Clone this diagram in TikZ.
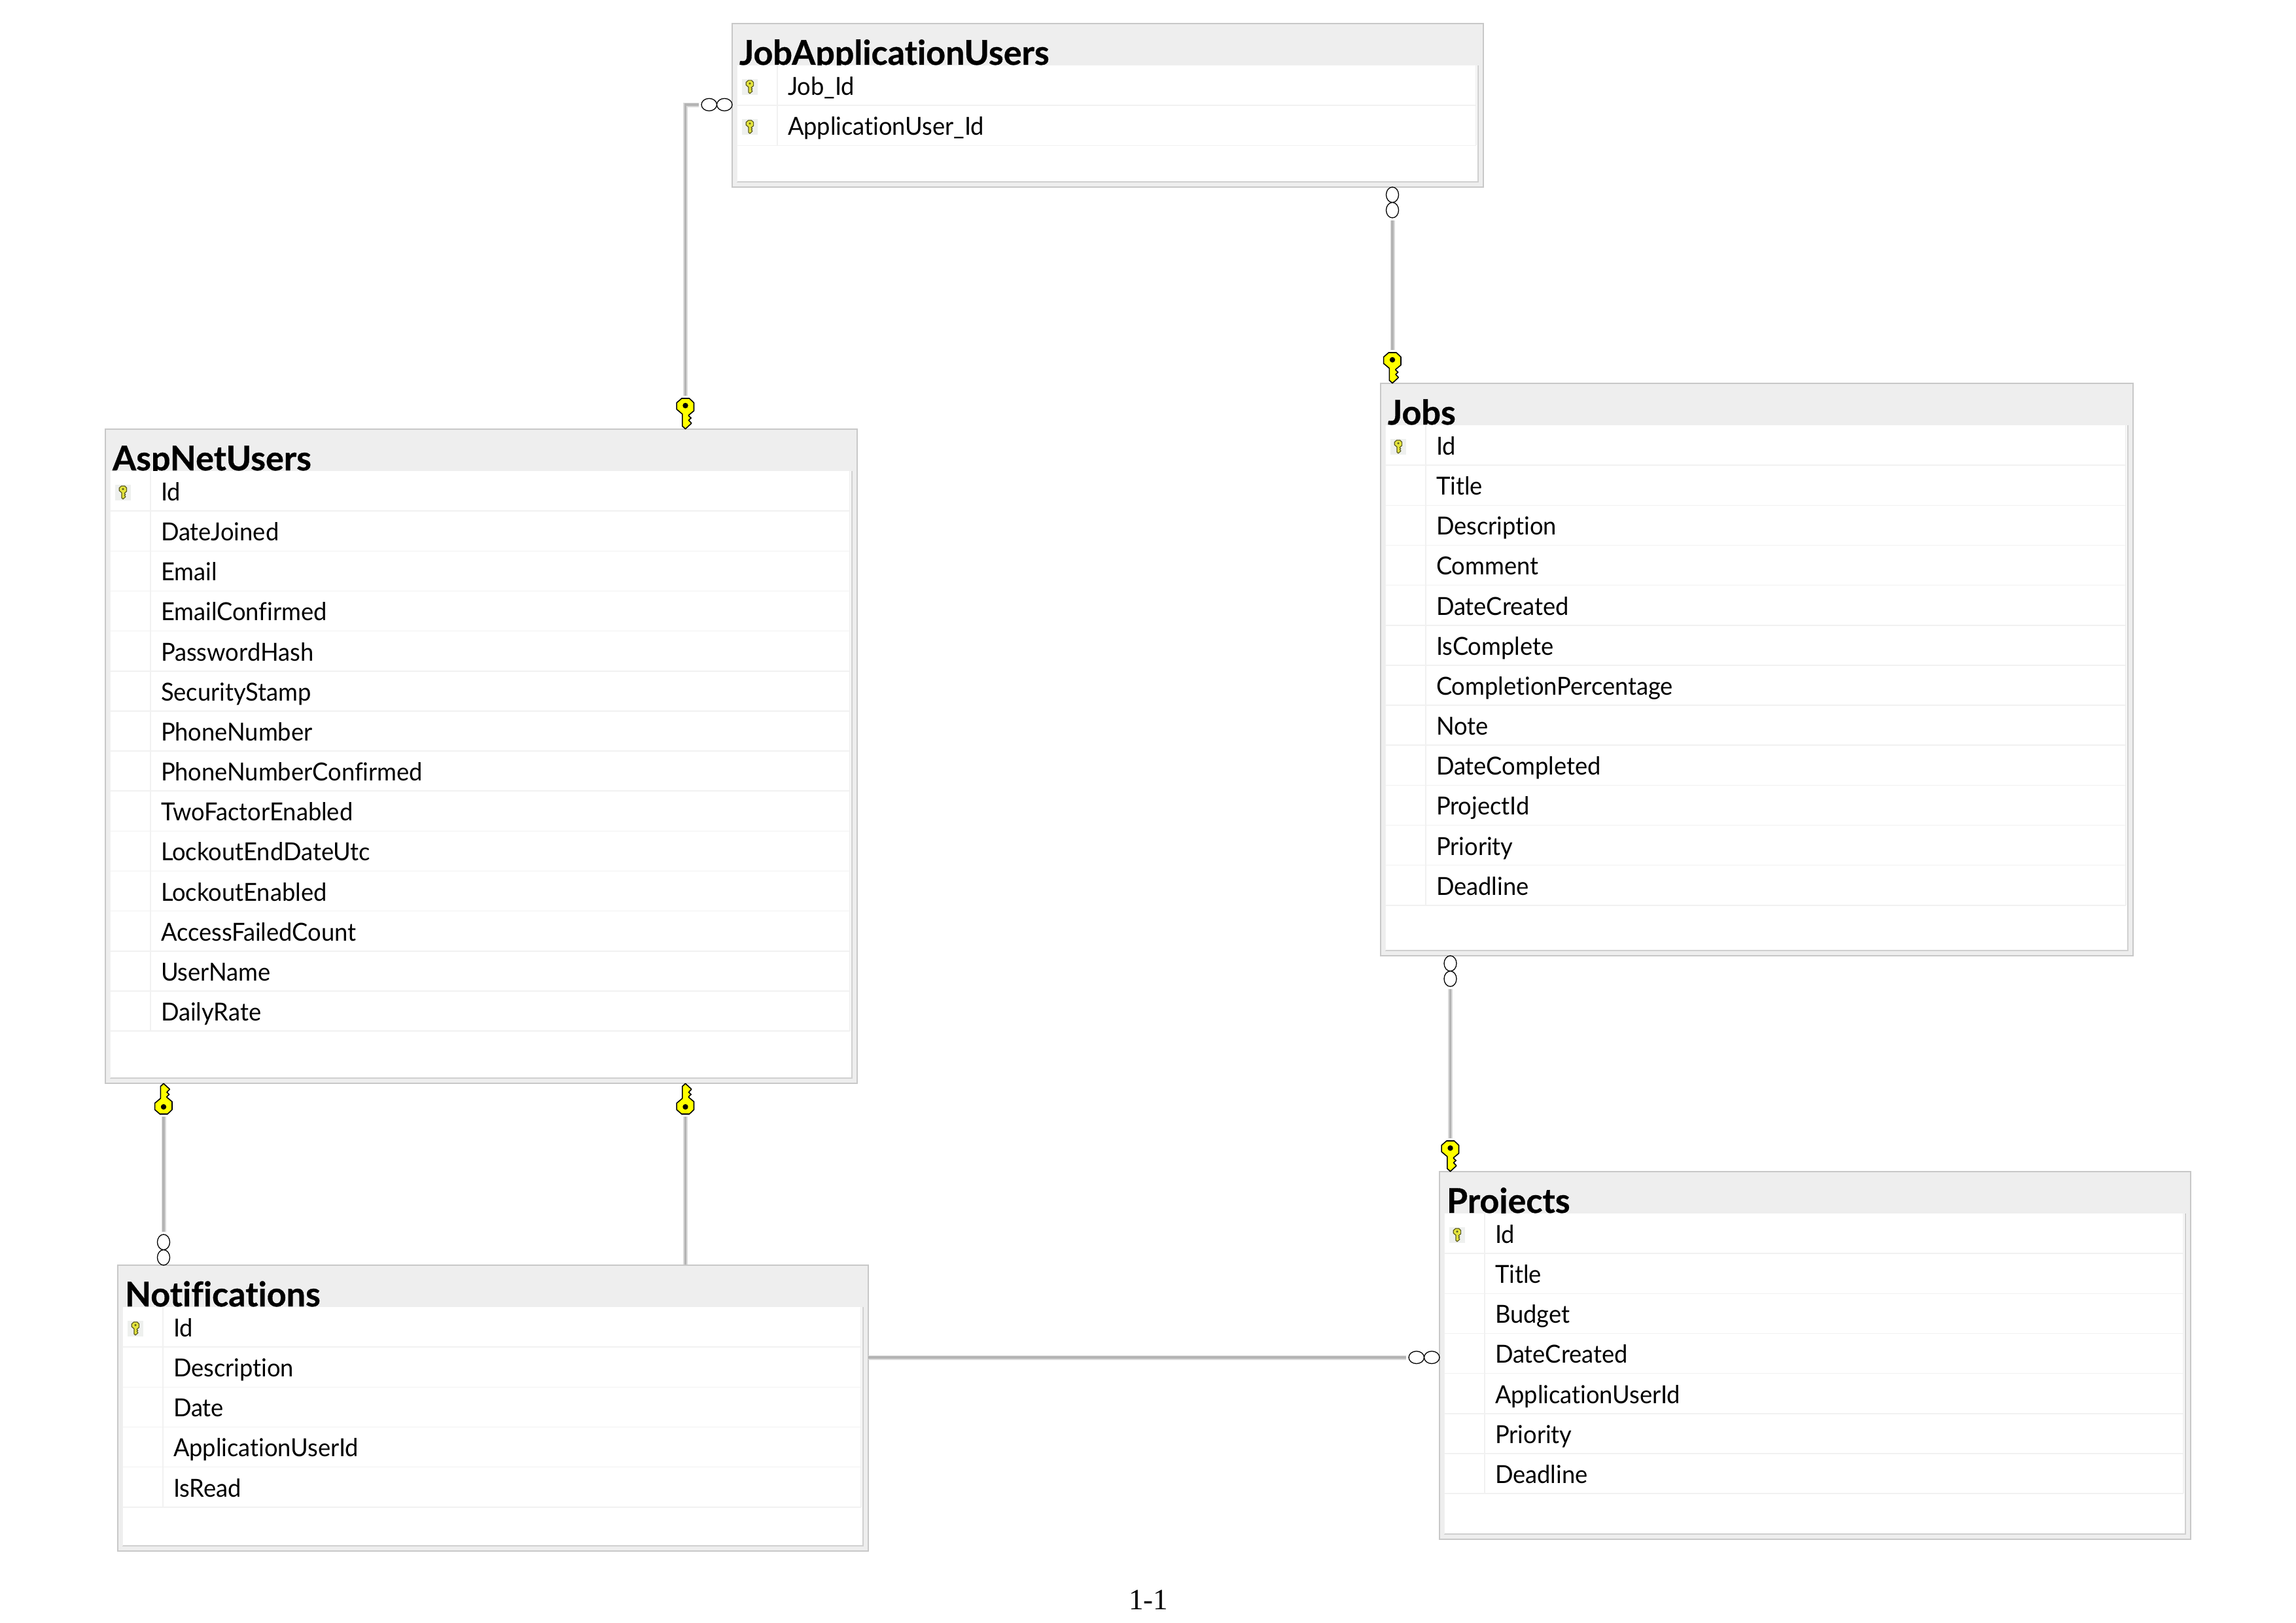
\documentclass[tikz,border=0pt]{standalone}
\usepackage{fontspec}
\setmainfont{Lato}[FakeStretch=0.955,Ligatures=NoCommon]
\newfontfamily\headfont{Lato}[Ligatures=NoCommon,BoldFeatures={FakeBold=0.6}]
\newfontfamily\pagefont{Liberation Serif}
\usetikzlibrary{calc}
\definecolor{tblfill}{HTML}{EEEEEE}
\definecolor{tblline}{HTML}{C8C8C8}
\definecolor{innerline}{HTML}{D0D0D0}
\definecolor{rowline}{HTML}{F1F1F1}
\definecolor{iconbg}{HTML}{EEF0EE}
\definecolor{connlight}{HTML}{DADADA}
\definecolor{conncore}{HTML}{B4B4B4}
\definecolor{keyyellow}{HTML}{FFFF00}
\definecolor{smallkeyfill}{HTML}{E4E43C}
\definecolor{smallkeyline}{HTML}{5A5A20}
\tikzset{
  x=1pt,y=-1pt,
  outerbox/.style={draw=tblline,line width=1.5pt,fill=tblfill,inner sep=0pt,outer sep=0pt,anchor=north west},
  coltext/.style={anchor=base west,inner sep=0pt,outer sep=0pt,text=black,font=\fontsize{38}{44}\selectfont},
  headtext/.style={anchor=base west,inner sep=0pt,outer sep=0pt,text=black,font=\headfont\fontsize{52}{60}\selectfont\bfseries},
  conn/.style={draw=conncore,line width=3.5pt,shorten <=4pt,shorten >=4pt,line join=miter,
     preaction={draw=connlight,line width=7pt}},
  glyph/.style={inner sep=0pt,outer sep=0pt},
}
\def\keypath{(-17/3,0) -- (18/3,0) -- (39/3,20/3) -- (39/3,57/3) -- (15/3,77/3) -- (15/3,80/3)
  -- (26/3,90/3) -- (15/3,100/3) -- (28/3,114/3) -- (0,140/3) -- (-14/3,127/3) -- (-14/3,72/3)
  -- (-40/3,50/3) -- (-40/3,20/3) -- cycle}
\newsavebox\keydown
\sbox\keydown{\begin{tikzpicture}[x=1pt,y=-1pt]
  \useasboundingbox (-14,0) rectangle (14,47);
  \draw[fill=keyyellow,draw=black,line width=1.6pt,line join=round] \keypath;
  \fill[black] (0,11) circle[radius=4.2];
\end{tikzpicture}}
\newsavebox\keyup
\sbox\keyup{\begin{tikzpicture}[x=1pt,y=1pt]
  \useasboundingbox (-14,0) rectangle (14,47);
  \draw[fill=keyyellow,draw=black,line width=1.6pt,line join=round] \keypath;
  \fill[black] (0,11) circle[radius=4.2];
\end{tikzpicture}}
\newsavebox\smallkey
\sbox\smallkey{\begin{tikzpicture}[x=0.43pt,y=-0.43pt]
  \useasboundingbox (-28,-5) rectangle (28,52);
  \fill[iconbg] (-28,-5) rectangle (28,52);
  \draw[fill=smallkeyfill,draw=smallkeyline,line width=1.2pt,line join=round] \keypath;
  \fill[smallkeyline] (0,11) circle[radius=4];
\end{tikzpicture}}
\newsavebox\circv
\sbox\circv{\begin{tikzpicture}[x=1pt,y=-1pt]
  \useasboundingbox (-10,0) rectangle (10,47);
  \draw[fill=white,draw=black,line width=1.3pt] (0,11.75) ellipse[x radius=9.5,y radius=11.75];
  \draw[fill=white,draw=black,line width=1.3pt] (0,35.25) ellipse[x radius=9.5,y radius=11.75];
\end{tikzpicture}}
\newsavebox\circh
\sbox\circh{\begin{tikzpicture}[x=1pt,y=-1pt]
  \useasboundingbox (0,-10) rectangle (47,10);
  \draw[fill=white,draw=black,line width=1.3pt] (11.75,0) ellipse[x radius=11.75,y radius=9.5];
  \draw[fill=white,draw=black,line width=1.3pt] (35.25,0) ellipse[x radius=11.75,y radius=9.5];
\end{tikzpicture}}
% \erdtable{name}{left}{top}{right}{bottom}{title}{number of key rows}{rows}
\newcommand{\erdtable}[8]{%
  \pgfmathsetmacro{\tblw}{#4-#2}\pgfmathsetmacro{\tblh}{#5-#3}%
  \node[outerbox,minimum width=\tblw pt,minimum height=\tblh pt] (#1) at (#2,#3) {};
  \node[headtext] (#1-title) at (#2+11,#3+63) {#6};
  \fill[white] (#2+7,#3+64) rectangle (#4-8,#5-8);
  \draw[innerline,line width=1.3pt] (#2+7,#5-8) -- (#4-8,#5-8) -- (#4-8,#3+64);
  \draw[rowline,line width=1pt] (#2+7,#5-8) -- (#2+7,#3+64);
  \foreach \txt [count=\i] in {#8} {
    \pgfmathsetmacro{\rowtop}{#3+64+61.15*(\i-1)}
    \pgfmathsetmacro{\rowbot}{\rowtop+61.15}
    \draw[rowline,line width=1.6pt] (#2+7,\rowbot) -- (#4-11,\rowbot);
    \draw[rowline,line width=1.6pt] (#2+69,\rowtop) -- (#2+69,\rowbot);
    \draw[rowline,line width=1.6pt] (#4-11,\rowtop) -- (#4-11,\rowbot);
    \node[coltext] (#1-row\i) at (#2+85,\rowtop+45.5) {\txt};
    \ifnum\i>#7\relax\else
      \node[glyph] (#1-key\i) at (#2+27,\rowtop+33) {\usebox\smallkey};
    \fi
  }
}
\begin{document}
\begin{tikzpicture}
\useasboundingbox (0,0) rectangle (3509,2481);
\fill[white] (0,0) rectangle (3509,2481);

\erdtable{jobapp}{1119}{36}{2267}{286}{JobApplicationUsers}{2}{Job\_Id,ApplicationUser\_Id}
\erdtable{aspnet}{161}{656}{1310}{1656}{AspNetUsers}{1}{Id,DateJoined,Email,EmailConfirmed,PasswordHash,SecurityStamp,PhoneNumber,PhoneNumberConfirmed,TwoFactorEnabled,LockoutEndDateUtc,LockoutEnabled,AccessFailedCount,UserName,DailyRate}
\erdtable{jobs}{2110}{586}{3260}{1461}{Jobs}{1}{Id,Title,Description,Comment,DateCreated,IsComplete,CompletionPercentage,Note,DateCompleted,ProjectId,Priority,Deadline}
\erdtable{notif}{180}{1934}{1327}{2371}{Notifications}{1}{Id,Description,Date,ApplicationUserId,IsRead}
\erdtable{proj}{2200}{1791}{3348}{2353}{Projects}{1}{Id,Title,Budget,DateCreated,ApplicationUserId,Priority,Deadline}

% relationship end markers
\node[glyph,anchor=east] (o1) at (1119,160) {\usebox\circh};
\node[glyph,anchor=south] (k1) at (1047.5,656) {\usebox\keydown};
\node[glyph,anchor=north] (o2) at (2128,286) {\usebox\circv};
\node[glyph,anchor=south] (k2) at (2128,586) {\usebox\keydown};
\node[glyph,anchor=north] (o3) at (2216.5,1461) {\usebox\circv};
\node[glyph,anchor=south] (k3) at (2216.5,1791) {\usebox\keydown};
\node[glyph,anchor=north] (k4) at (250,1656) {\usebox\keyup};
\node[glyph,anchor=south] (o4) at (250,1934) {\usebox\circv};
\node[glyph,anchor=north] (k5) at (1047.5,1656) {\usebox\keyup};
\node[glyph,anchor=east] (o5) at (2200,2075) {\usebox\circh};
\coordinate (n5) at (1047.5,1937);
\coordinate (n6) at (1323,2075);

% relationships
\draw[conn] (o1.west) -| (k1.north);
\draw[conn] (o2.south) -- (k2.north);
\draw[conn] (o3.south) -- (k3.north);
\draw[conn] (k4.south) -- (o4.north);
\draw[conn] (k5.south) -- (n5);
\draw[conn] (n6) -- (o5.west);

\node[anchor=base,inner sep=0pt,font=\pagefont\fontsize{45}{50}\selectfont] (page) at (1755,2460) {1-1};
\end{tikzpicture}
\end{document}
